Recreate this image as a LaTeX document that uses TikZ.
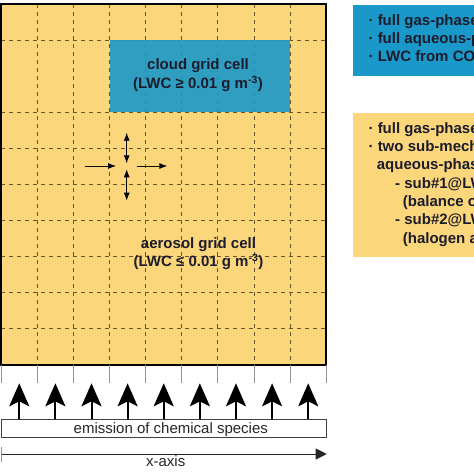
\documentclass[tikz,border=0pt]{standalone}
\usepackage{fontspec}
\setmainfont{Liberation Sans}
\usetikzlibrary{arrows.meta}
\usetikzlibrary{positioning}
\definecolor{cellyellow}{RGB}{251,214,122}
\definecolor{cloudblue}{RGB}{26,152,201}
\definecolor{inkdark}{RGB}{28,28,44}
\definecolor{gridbrown}{RGB}{90,72,38}

\begin{document}
\begin{tikzpicture}[x=1pt,y=-1pt,
		gridline/.style={dash pattern=on 4pt off 4pt, line width=0.9pt, color=gridbrown, opacity=0.9},
		tickline/.style={color=gray!85, line width=0.9pt},
		smallarrow/.style={line width=0.9pt, {Latex[length=8pt,width=6pt]}-{Latex[length=8pt,width=6pt]}},
		pusharrow/.style={line width=0.9pt, -{Latex[length=8pt,width=6pt]}},
		bigarrow/.style={line width=2pt, -{Stealth[length=23pt,width=20pt,inset=5pt]}},
		axisarrow/.style={line width=0.9pt, color=black!85, -{Triangle[length=11pt,width=11pt]}},
		celltext/.style={font=\bfseries\fontsize{15}{18.3}\selectfont, align=center, text=inkdark, inner sep=0pt},
		listtext/.style={font=\bfseries\fontsize{15}{18}\selectfont, anchor=base west, text=inkdark, inner sep=0pt},
		plaintext/.style={font=\fontsize{15}{18}\selectfont, anchor=base, text=black!85, inner sep=0pt}]
	\useasboundingbox (0,0) rectangle (474,474);
	\clip (0,0) rectangle (474,474);
	% model domain with the cloud region
	\fill[cellyellow] (1.2,4) rectangle (326.3,365);
	\foreach \k in {1,...,8}{
		\draw[gridline] ({1.2+36.12*\k},4) -- ({1.2+36.12*\k},365);
	}
	\foreach \j in {1,3,4,...,9}{
		\draw[gridline] (1.2,{4+36.1*\j}) -- (326.3,{4+36.1*\j});
	}
	\fill[cloudblue, fill opacity=0.9] (109.6,40.1) rectangle (290.2,112.3);
	\draw[line width=1.8pt] (1.2,4) rectangle (326.3,365);
	\foreach \k in {0,...,9}{
		\draw[tickline] ({1.2+36.12*\k},365) -- ++(0,18);
	}
	
	\node[celltext] (cloudlabel) at (198,75.3) {cloud grid cell\\(LWC ≥ 0.01 g m\textsuperscript{-3})};
	\node[celltext] (aerosollabel) at (198.5,253.6) {aerosol grid cell\\(LWC ≤ 0.01 g m\textsuperscript{-3})};
	
	% transport arrows
	\coordinate (vup-a) at (126.7,132.7);
	\coordinate (vup-b) at (126.7,163.3);
	\coordinate (vdn-a) at (126.7,169.3);
	\coordinate (vdn-b) at (126.7,200.7);
	\coordinate (hin-a) at (85,166);
	\coordinate (hin-b) at (116,166);
	\coordinate (hout-a) at (137.3,166);
	\coordinate (hout-b) at (167.3,166);
	\draw[smallarrow] (vup-a) -- (vup-b);
	\draw[smallarrow] (vdn-a) -- (vdn-b);
	\draw[pusharrow] (hin-a) -- (hin-b);
	\draw[pusharrow] (hout-a) -- (hout-b);
	
	% emission from below
	\node[draw=black!75, fill=white, line width=0.8pt, minimum width=325.1pt, minimum height=18pt, inner sep=0pt, anchor=north west] (emisbox) at (1.2,419.3) {};
	\node[plaintext] (emistext) at (170.8,433.5) {emission of chemical species};
	\foreach \k in {0,...,8}{
		\draw[bigarrow] ([xshift={(18.06+36.12*\k)*1pt}]emisbox.north west) -- ++(0,-36);
	}
	
	% x-axis
	\coordinate (xa-start) at (1.2,454);
	\coordinate (xa-end) at (326.7,454);
	\draw[axisarrow] (xa-start) -- (xa-end);
	\draw[tickline, line width=1.4pt] (1.2,447) -- (1.2,462);
	\node[plaintext] (xaxis) at (165.7,466) {x-axis};
	
	% legend panels
	\fill[cloudblue] (353.3,5) rectangle (480,76);
	\fill[cellyellow] (353.3,113.3) rectangle (480,256.7);
	\foreach \txt [count=\i] in {full gas-phase, full aqueous-p, LWC from CO}{
		\node[listtext] (cloudlist-\i) at (368.4,{25.7+17.7*(\i-1)}) {· \txt};
	}
	\foreach \ind/\txt [count=\i] in {0/· full gas-phase, 0/· two sub-mech, 8.3/aqueous-phas, 26.6/- sub\#1@LW, 34.3/(balance o, 26.6/- sub\#2@LW, 34.3/(halogen a}{
		\node[listtext] (aqlist-\i) at ({368.4+\ind},{133.3+18.33*(\i-1)}) {\txt};
	}
\end{tikzpicture}
\end{document}
